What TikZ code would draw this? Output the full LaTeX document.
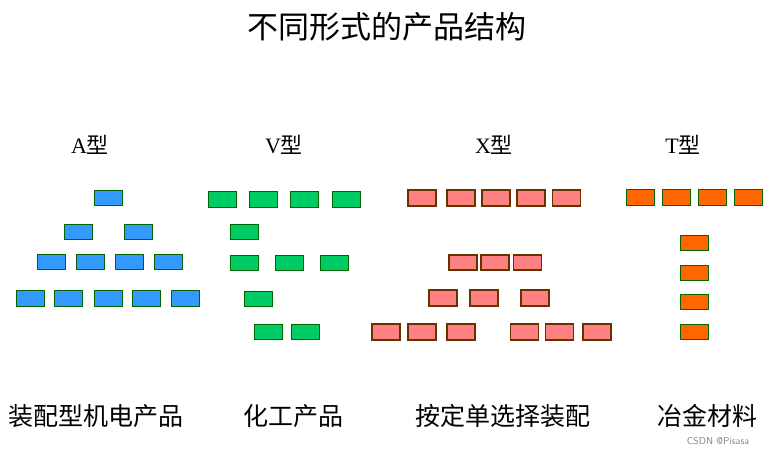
\documentclass[tikz,border=0pt]{standalone}
\usepackage{fontspec}
\setmainfont{Liberation Serif}
\newfontfamily\cjk{Noto Sans CJK SC}
\begin{document}
\begin{tikzpicture}[x=1pt,y=-1pt,
  bx/.style={minimum width=28pt,minimum height=15.5pt,inner sep=0pt,draw=green!40!black,line width=1pt},
  bl/.style={bx,fill={rgb,255:red,51;green,153;blue,255}},
  gr/.style={bx,fill={rgb,255:red,0;green,204;blue,102}},
  rd/.style={bx,fill={rgb,255:red,255;green,128;blue,128},draw={rgb,255:red,102;green,51;blue,0},line width=1.6pt},
  og/.style={bx,fill={rgb,255:red,255;green,102;blue,0}},
  lbl/.style={font=\fontsize{22}{24}\selectfont},
  captxt/.style={inner sep=0pt,font=\cjk\fontsize{25}{28}\selectfont},
  ]
\useasboundingbox (0,0) rectangle (780,456);
\node[font=\cjk\fontsize{31}{34}\selectfont] (title) at (387,27) {不同形式的产品结构};
\node[lbl] (tA) at (90,145) {A\cjk 型};
\node[lbl] (tV) at (284,145) {V\cjk 型};
\node[lbl] (tX) at (494,145) {X\cjk 型};
\node[lbl] (tT) at (683,145) {T\cjk 型};
\node[captxt] (cA) at (96,416) {装配型机电产品};
\node[captxt] (cV) at (293,416) {化工产品};
\node[captxt] (cX) at (503,416) {按定单选择装配};
\node[captxt] (cT) at (707,416) {冶金材料};
\node[font=\sffamily\fontsize{10}{11}\selectfont,text=gray] (wm) at (718,441) {CSDN @Pisasa};
% A
\node[bl] (a1) at (108,198) {};
\foreach \x [count=\i] in {78,138} \node[bl] (a2\i) at (\x,232) {};
\foreach \x [count=\i] in {51.5,90.5,129.5,168} \node[bl] (a3\i) at (\x,262) {};
\foreach \x [count=\i] in {30,68.5,108,146.5,185.5} \node[bl] (a4\i) at (\x,298.5) {};
% V
\foreach \x [count=\i] in {222.5,263.5,304.5,346} \node[gr] (v1\i) at (\x,199.5) {};
\node[gr] (v2) at (244,232) {};
\foreach \x [count=\i] in {244,289,334.5} \node[gr] (v3\i) at (\x,263) {};
\node[gr] (v4) at (258.5,299) {};
\foreach \x [count=\i] in {268.5,305} \node[gr] (v5\i) at (\x,332) {};
% X
\foreach \x [count=\i] in {422,461,496,531,566.5} \node[rd] (x1\i) at (\x,198) {};
\foreach \x [count=\i] in {463,495,527.5} \node[rd] (x2\i) at (\x,262.5) {};
\foreach \x [count=\i] in {443,484,535} \node[rd] (x3\i) at (\x,298) {};
\foreach \x [count=\i] in {386,422,461,524.5,559.5,597} \node[rd] (x4\i) at (\x,332) {};
% T
\foreach \x [count=\i] in {640,676,712,748} \node[og] (t1\i) at (\x,197.5) {};
\foreach \y [count=\i] in {243,273,302,332} \node[og] (t2\i) at (694,\y) {};
\end{tikzpicture}
\end{document}
